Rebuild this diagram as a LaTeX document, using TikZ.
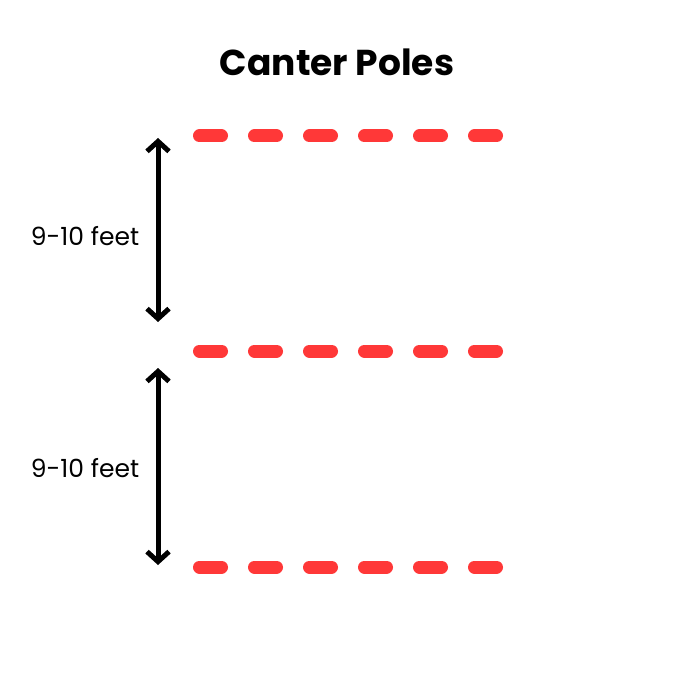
\documentclass[tikz,border=0pt]{standalone}
\usepackage{fontspec}
\setmainfont{Poppins}
\usetikzlibrary{arrows.meta}
\tikzset{
  pole/.style={line width=13pt, line cap=round, draw={rgb,255:red,255;green,56;blue,56},
    dash pattern=on 22pt off 33pt},
  gap/.style={line width=5pt, {Straight Barb[length=10pt,width=22pt,line width=5pt]}-{Straight Barb[length=10pt,width=22pt,line width=5pt]}},
  lbl/.style={font=\fontsize{25}{30}\selectfont}
}
\begin{document}
\begin{tikzpicture}[x=1pt,y=-1pt]
  \useasboundingbox[fill=white] (0,0) rectangle (700,700);
  \node[font=\bfseries\fontsize{36}{42}\selectfont] (title) at (337,62) {Canter Poles};
  % poles
  \draw[pole] (199.5,136) -- (496.5,136);
  \draw[pole] (199.5,351) -- (496.5,351);
  \draw[pole] (199.5,567) -- (496.5,567);
  % distances
  \coordinate (a1) at (158,138);
  \coordinate (a2) at (158,322);
  \coordinate (b1) at (158,368);
  \coordinate (b2) at (158,565);
  \draw[gap] (a1) -- (a2);
  \draw[gap] (b1) -- (b2);
  \node[lbl] (d1) at (85,236) {9-10 feet};
  \node[lbl] (d2) at (85,468) {9-10 feet};
\end{tikzpicture}
\end{document}
